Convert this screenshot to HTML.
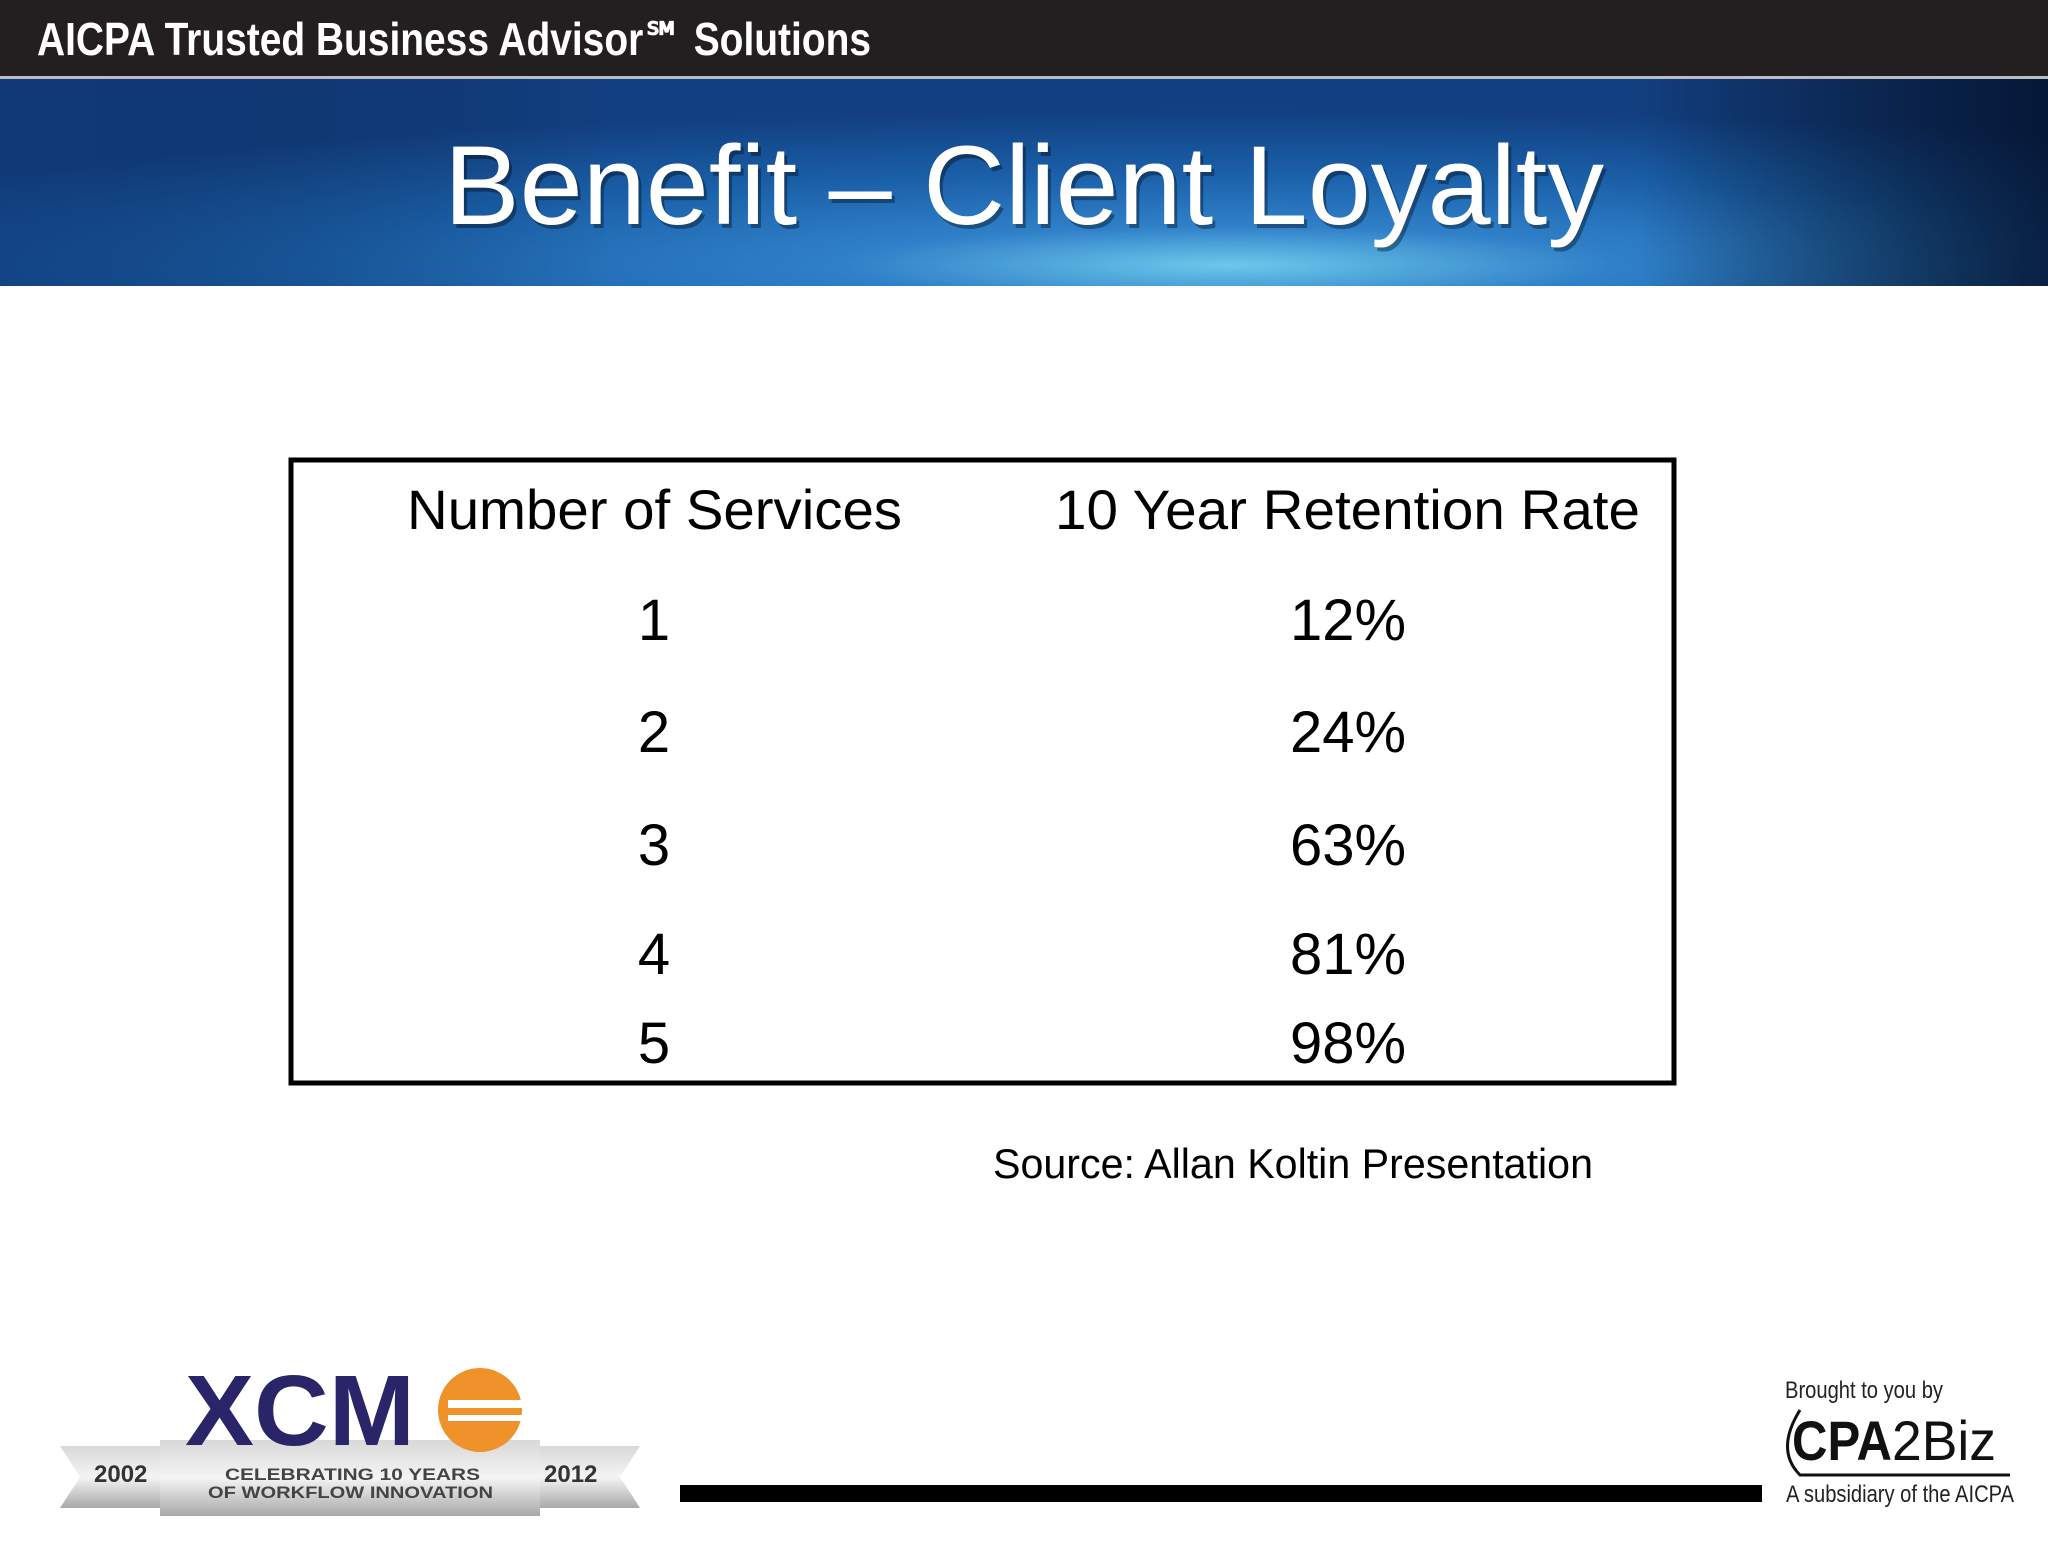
<!DOCTYPE html>
<html><head><meta charset="utf-8"><style>
html,body{margin:0;padding:0;background:#fff;}
body{width:2048px;height:1536px;overflow:hidden;position:relative;font-family:"Liberation Sans",sans-serif;}
</style></head><body>
<svg width="2048" height="1536" viewBox="0 0 2048 1536" xmlns="http://www.w3.org/2000/svg">
<defs>
<radialGradient id="bl" cx="0.6" cy="0.9" r="0.75">
<stop offset="0" stop-color="#6cc8ea"/><stop offset="0.25" stop-color="#2f80c8"/><stop offset="0.6" stop-color="#1a5fa8"/><stop offset="1" stop-color="#123f80"/>
</radialGradient>
<linearGradient id="bl2" x1="0" x2="1"><stop offset="0" stop-color="#0b2d63" stop-opacity="0.3"/><stop offset="0.3" stop-color="#000" stop-opacity="0"/><stop offset="0.8" stop-color="#000" stop-opacity="0"/><stop offset="1" stop-color="#020a20" stop-opacity="0.75"/></linearGradient>
<linearGradient id="rib" x1="0" y1="0" x2="0" y2="1"><stop offset="0" stop-color="#d8d8d8"/><stop offset="0.5" stop-color="#f4f4f4"/><stop offset="1" stop-color="#a8a8a8"/></linearGradient>
</defs>
<rect x="0" y="0" width="2048" height="77" fill="#231f20"/>
<text x="37" y="55" font-size="46" font-weight="bold" fill="#fff" textLength="834" lengthAdjust="spacingAndGlyphs">AICPA Trusted Business Advisor℠ Solutions</text>
<rect x="0" y="76" width="2048" height="3" fill="#b8bcc4"/>
<rect x="0" y="79" width="2048" height="207" fill="url(#bl)"/>
<rect x="0" y="79" width="2048" height="207" fill="url(#bl2)"/>
<text x="447" y="228" font-size="112" fill="#000" opacity="0.35" textLength="1160" lengthAdjust="spacingAndGlyphs">Benefit – Client Loyalty</text>
<text x="444" y="224" font-size="112" fill="#fff" textLength="1160" lengthAdjust="spacingAndGlyphs">Benefit – Client Loyalty</text>

<rect x="291" y="460" width="1383" height="623" fill="none" stroke="#000" stroke-width="5"/>
<text x="407" y="529" font-size="56" fill="#000" textLength="495" lengthAdjust="spacingAndGlyphs">Number of Services</text>
<text x="1055" y="529" font-size="56" fill="#000" textLength="585" lengthAdjust="spacingAndGlyphs">10 Year Retention Rate</text>
<g id="rows"></g>
<text x="993" y="1178" font-size="42" fill="#000" textLength="600" lengthAdjust="spacingAndGlyphs">Source: Allan Koltin Presentation</text>

<rect x="680" y="1485" width="1082" height="17" fill="#000"/>

<g>
<polygon points="60,1446 170,1446 170,1508 60,1508 80,1477" fill="url(#rib)"/>
<polygon points="530,1446 640,1446 620,1477 640,1508 530,1508" fill="url(#rib)"/>
<rect x="160" y="1440" width="380" height="76" fill="url(#rib)"/>
<text x="185" y="1445" font-size="100" font-weight="bold" fill="#2a2468" textLength="230" lengthAdjust="spacingAndGlyphs">XCM</text>
<circle cx="480" cy="1410" r="42" fill="#f0922a"/>
<rect x="448" y="1400" width="80" height="8" fill="#fff"/><rect x="448" y="1415" width="80" height="6" fill="#fff"/>
<text x="94" y="1482" font-size="24" font-weight="bold" fill="#333">2002</text>
<text x="544" y="1482" font-size="24" font-weight="bold" fill="#333">2012</text>
<text x="225" y="1480" font-size="17" font-weight="bold" fill="#444" textLength="255" lengthAdjust="spacingAndGlyphs">CELEBRATING 10 YEARS</text>
<text x="208" y="1498" font-size="17" font-weight="bold" fill="#444" textLength="285" lengthAdjust="spacingAndGlyphs">OF WORKFLOW INNOVATION</text>
</g>
<g>
<text x="1785" y="1398" font-size="24" fill="#222" textLength="158" lengthAdjust="spacingAndGlyphs">Brought to you by</text>
<text x="1792" y="1460" font-size="56" font-weight="bold" fill="#111" textLength="100" lengthAdjust="spacingAndGlyphs">CPA</text>
<text x="1892" y="1460" font-size="56" fill="#111" textLength="104" lengthAdjust="spacingAndGlyphs">2Biz</text>
<path d="M1800,1410 Q1775,1450 1800,1475 L2010,1475" fill="none" stroke="#111" stroke-width="3"/>
<text x="1786" y="1502" font-size="24" fill="#222" textLength="228" lengthAdjust="spacingAndGlyphs">A subsidiary of the AICPA</text>
</g>
</svg>
<script>
const services = ["1","2","3","4","5"];
const rates = ["12%","24%","63%","81%","98%"];
const rowBaselines = [640, 752, 865, 974, 1063];
const g = document.getElementById('rows');
const NS = "http://www.w3.org/2000/svg";
services.forEach((s, i) => {
  const t1 = document.createElementNS(NS, 'text');
  t1.setAttribute('x', 654); t1.setAttribute('y', rowBaselines[i]);
  t1.setAttribute('font-size', 58); t1.setAttribute('text-anchor', 'middle');
  t1.textContent = s;
  
  
  g.appendChild(t1);
  const t2 = document.createElementNS(NS, 'text');
  t2.setAttribute('x', 1348); t2.setAttribute('y', rowBaselines[i]);
  t2.setAttribute('font-size', 58); t2.setAttribute('text-anchor', 'middle');
  t2.textContent = rates[i];
  
  
  g.appendChild(t2);
});
</script>
</body></html>
